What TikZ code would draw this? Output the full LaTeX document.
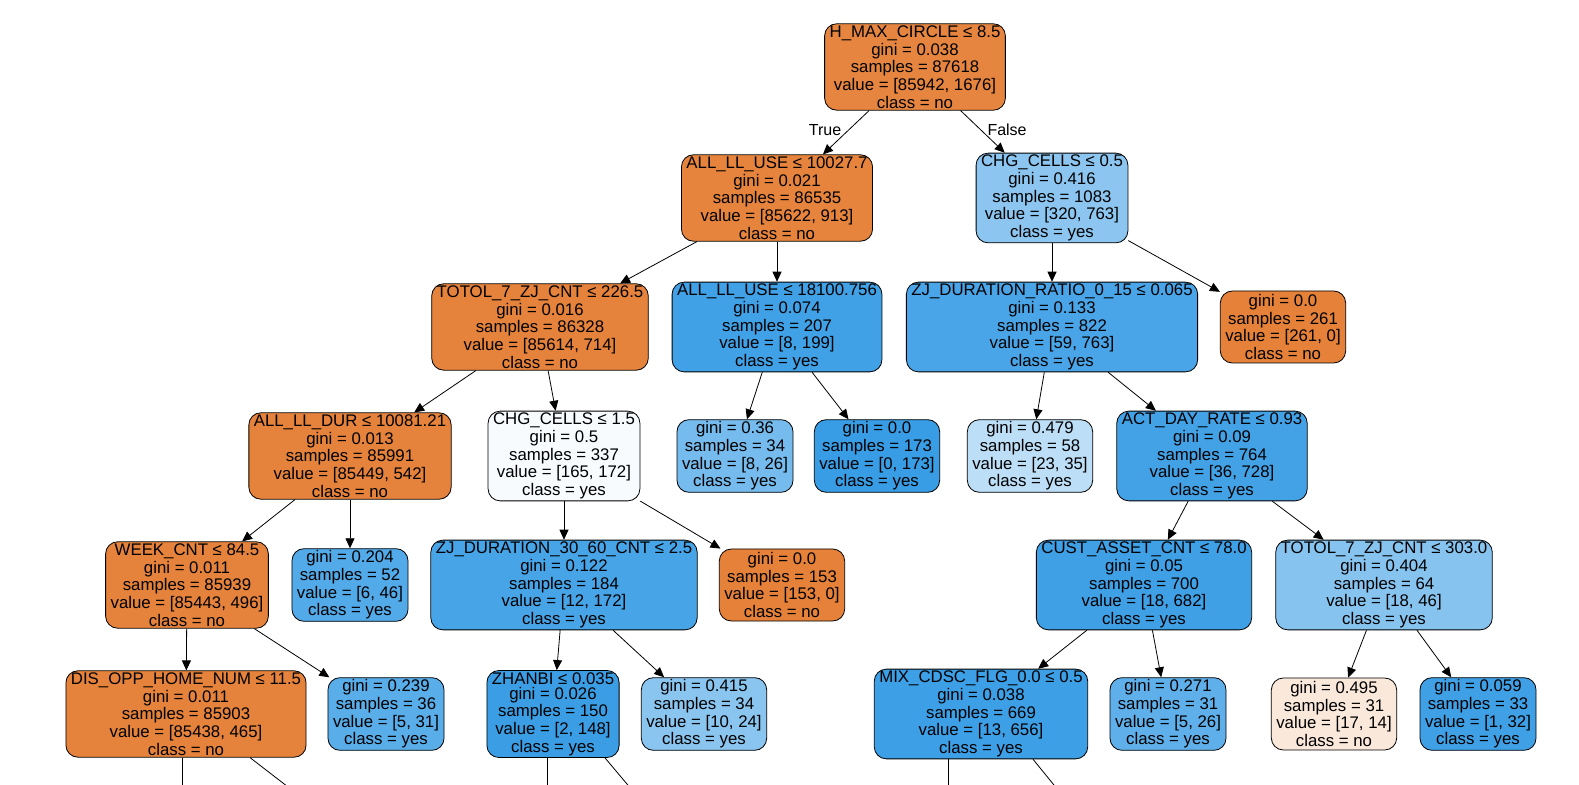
\documentclass[tikz,border=0pt]{standalone}
\usepackage{fontspec}
\setmainfont{Liberation Sans}
\usetikzlibrary{arrows.meta}
\definecolor{orng}{HTML}{E58139}
\definecolor{blu}{HTML}{399DE5}
\tikzset{
  leaf/.style={draw, rounded corners=6pt, align=center, inner xsep=2.5pt, inner ysep=1pt,
    minimum height=36pt, font=\fontsize{8.4}{7.4}\selectfont},
  split/.style={leaf, minimum height=43pt},
  edge/.style={-{Triangle[length=5pt,width=4.5pt]}, thin},
}
\begin{document}
\begin{tikzpicture}[x=0.5pt, y=-0.5pt]
\useasboundingbox (0,0) rectangle (1579,785);
% level 0
\node[split, fill=orng!97!white] (root) at (915,67) {H\_MAX\_CIRCLE ≤ 8.5\\gini = 0.038\\samples = 87618\\value = [85942, 1676]\\class = no};
% level 1
\node[split, fill=orng!98!white] (lluse) at (777,198) {ALL\_LL\_USE ≤ 10027.7\\gini = 0.021\\samples = 86535\\value = [85622, 913]\\class = no};
\node[split, fill=blu!58!white] (chg) at (1052,198) {CHG\_CELLS ≤ 0.5\\gini = 0.416\\samples = 1083\\value = [320, 763]\\class = yes};
% level 2
\node[split, fill=orng!99!white] (totol) at (540,327) {TOTOL\_7\_ZJ\_CNT ≤ 226.5\\gini = 0.016\\samples = 86328\\value = [85614, 714]\\class = no};
\node[split, fill=blu!96!white] (lluseb) at (777,327) {ALL\_LL\_USE ≤ 18100.756\\gini = 0.074\\samples = 207\\value = [8, 199]\\class = yes};
\node[split, fill=blu!92!white] (ratio) at (1052,327) {ZJ\_DURATION\_RATIO\_0\_15 ≤ 0.065\\gini = 0.133\\samples = 822\\value = [59, 763]\\class = yes};
\node[leaf, fill=orng] (noa) at (1283,327) {gini = 0.0\\samples = 261\\value = [261, 0]\\class = no};
% level 3
\node[split, fill=orng!99!white] (lldur) at (350,456) {ALL\_LL\_DUR ≤ 10081.21\\gini = 0.013\\samples = 85991\\value = [85449, 542]\\class = no};
\node[split, fill=blu!4!white] (chgb) at (564,456) {CHG\_CELLS ≤ 1.5\\gini = 0.5\\samples = 337\\value = [165, 172]\\class = yes};
\node[leaf, fill=blu!69!white] (lfa) at (735,456) {gini = 0.36\\samples = 34\\value = [8, 26]\\class = yes};
\node[leaf, fill=blu] (lfb) at (877,456) {gini = 0.0\\samples = 173\\value = [0, 173]\\class = yes};
\node[leaf, fill=blu!34!white] (lfc) at (1030,456) {gini = 0.479\\samples = 58\\value = [23, 35]\\class = yes};
\node[split, fill=blu!95!white] (actday) at (1212,456) {ACT\_DAY\_RATE ≤ 0.93\\gini = 0.09\\samples = 764\\value = [36, 728]\\class = yes};
% level 4
\node[split, fill=orng!99!white] (week) at (187,585) {WEEK\_CNT ≤ 84.5\\gini = 0.011\\samples = 85939\\value = [85443, 496]\\class = no};
\node[leaf, fill=blu!87!white] (lfd) at (350,585) {gini = 0.204\\samples = 52\\value = [6, 46]\\class = yes};
\node[split, fill=blu!93!white] (dur) at (564,585) {ZJ\_DURATION\_30\_60\_CNT ≤ 2.5\\gini = 0.122\\samples = 184\\value = [12, 172]\\class = yes};
\node[leaf, fill=orng] (nob) at (782,585) {gini = 0.0\\samples = 153\\value = [153, 0]\\class = no};
\node[split, fill=blu!97!white] (asset) at (1144,585) {CUST\_ASSET\_CNT ≤ 78.0\\gini = 0.05\\samples = 700\\value = [18, 682]\\class = yes};
\node[split, fill=blu!61!white] (totolb) at (1384,585) {TOTOL\_7\_ZJ\_CNT ≤ 303.0\\gini = 0.404\\samples = 64\\value = [18, 46]\\class = yes};
% level 5
\node[split, fill=orng!99!white] (opp) at (186,714) {DIS\_OPP\_HOME\_NUM ≤ 11.5\\gini = 0.011\\samples = 85903\\value = [85438, 465]\\class = no};
\node[leaf, fill=blu!84!white] (lfe) at (386,714) {gini = 0.239\\samples = 36\\value = [5, 31]\\class = yes};
\node[split, fill=blu!99!white] (zhanbi) at (553,714) {ZHANBI ≤ 0.035\\gini = 0.026\\samples = 150\\value = [2, 148]\\class = yes};
\node[leaf, fill=blu!59!white] (lff) at (704,714) {gini = 0.415\\samples = 34\\value = [10, 24]\\class = yes};
\node[split, fill=blu!98!white] (mix) at (981,714) {MIX\_CDSC\_FLG\_0.0 ≤ 0.5\\gini = 0.038\\samples = 669\\value = [13, 656]\\class = yes};
\node[leaf, fill=blu!81!white] (lfg) at (1168,714) {gini = 0.271\\samples = 31\\value = [5, 26]\\class = yes};
\node[leaf, fill=orng!18!white] (noc) at (1334,714) {gini = 0.495\\samples = 31\\value = [17, 14]\\class = no};
\node[leaf, fill=blu!97!white] (lfh) at (1478,714) {gini = 0.059\\samples = 33\\value = [1, 32]\\class = yes};
% cut-off ends
\coordinate (oa) at (182,790); \coordinate (ob) at (292,790);
\coordinate (za) at (547,790); \coordinate (zb) at (632,790);
\coordinate (ma) at (948,790); \coordinate (mb) at (1058,790);
% edges
\draw[edge] (root) -- node[left, pos=0.45, font=\fontsize{8}{8}\selectfont] {True} (lluse);
\draw[edge] (root) -- node[right, pos=0.45, font=\fontsize{8}{8}\selectfont] {False} (chg);
\draw[edge] (lluse) -- (totol);
\draw[edge] (lluse) -- (lluseb);
\draw[edge] (chg) -- (ratio);
\draw[edge] (chg) -- (noa);
\draw[edge] (totol) -- (lldur);
\draw[edge] (totol) -- (chgb);
\draw[edge] (lluseb) -- (lfa);
\draw[edge] (lluseb) -- (lfb);
\draw[edge] (ratio) -- (lfc);
\draw[edge] (ratio) -- (actday);
\draw[edge] (lldur) -- (week);
\draw[edge] (lldur) -- (lfd);
\draw[edge] (chgb) -- (dur);
\draw[edge] (chgb) -- (nob);
\draw[edge] (actday) -- (asset);
\draw[edge] (actday) -- (totolb);
\draw[edge] (week) -- (opp);
\draw[edge] (week) -- (lfe);
\draw[edge] (dur) -- (zhanbi);
\draw[edge] (dur) -- (lff);
\draw[edge] (asset) -- (mix);
\draw[edge] (asset) -- (lfg);
\draw[edge] (totolb) -- (noc);
\draw[edge] (totolb) -- (lfh);
\draw (opp.south -| oa) -- (oa);
\draw ([xshift=32pt]opp.south) -- (ob);
\draw (zhanbi.south -| za) -- (za);
\draw ([xshift=26pt]zhanbi.south) -- (zb);
\draw (mix.south -| ma) -- (ma);
\draw ([xshift=26pt]mix.south) -- (mb);
\end{tikzpicture}
\end{document}
